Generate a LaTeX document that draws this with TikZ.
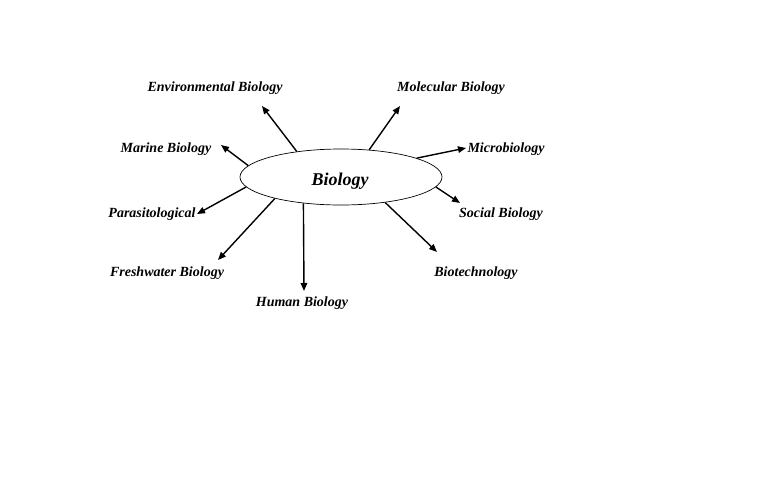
\documentclass[tikz,border=0pt]{standalone}
\usepackage{fontspec}
\setmainfont{Liberation Serif}
\usetikzlibrary{shapes.geometric,arrows.meta}
\begin{document}
\begin{tikzpicture}[x=1pt,y=-1pt,
  lbl/.style={inner sep=0pt,font=\fontsize{14}{16}\selectfont\bfseries\itshape},
  arr/.style={line width=1.4pt,-{Triangle[length=8pt,width=6.5pt]}},
  hub/.style={ellipse,draw,line width=0.7pt,minimum width=202pt,minimum height=56pt,inner sep=0pt}]
\useasboundingbox (0,0) rectangle (768,480);
\fill[white] (0,0) rectangle (768,480);
\node[hub] (bio) at (341,177) {};
\node[font=\fontsize{18}{20}\selectfont\bfseries\itshape,inner sep=0pt] (biot) at (340,181) {Biology};
\node[lbl] (env) at (215,88) {Environmental Biology};
\node[lbl] (mol) at (451,88) {Molecular Biology};
\node[lbl] (mar) at (166,149) {Marine Biology};
\node[lbl] (mic) at (506,149) {Microbiology};
\node[lbl] (par) at (152,214) {Parasitological};
\node[lbl] (soc) at (501,214) {Social Biology};
\node[lbl] (fre) at (167,273) {Freshwater Biology};
\node[lbl] (bte) at (476,273) {Biotechnology};
\node[lbl] (hum) at (302,303) {Human Biology};
\coordinate (envT) at (262,106);
\coordinate (molT) at (400,106);
\coordinate (marT) at (221,145);
\coordinate (micT) at (466,148);
\coordinate (socT) at (460,203);
\coordinate (parT) at (197,214);
\coordinate (freT) at (218,260);
\coordinate (humT) at (304,291);
\coordinate (bteT) at (437,252);
\draw[arr] (bio.150.6) -- (envT);
\draw[arr] (bio.44) -- (molT);
\draw[arr] (bio.173.3) -- (marT);
\draw[arr] (bio.14.6) -- (micT);
\draw[arr] (bio.-6.7) -- (socT);
\draw[arr] (bio.186.7) -- (parT);
\draw[arr] (bio.198) -- (freT);
\draw[arr] (bio.215) -- (humT);
\draw[arr] (bio.-30) -- (bteT);
\end{tikzpicture}
\end{document}
